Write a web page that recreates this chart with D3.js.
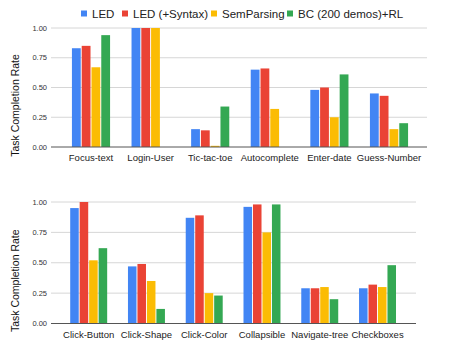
<!DOCTYPE html>
<html>
<head>
<meta charset="utf-8">
<script src="https://cdnjs.cloudflare.com/ajax/libs/d3/7.8.5/d3.min.js"></script>
<style>
  body { margin: 0; background: #fff; }
  text { font-family: "Liberation Sans", Arial, sans-serif; }
</style>
</head>
<body>
<script>
const width = 474;
const height = 350;

const seriesNames = ["LED", "LED (+Syntax)", "SemParsing", "BC (200 demos)+RL"];
const seriesColors = ["#4285F4", "#EA4335", "#FBBC04", "#34A853"];
const yTicks = [0, 0.25, 0.5, 0.75, 1];

// top panel
const tasksTop = ["Focus-text", "Login-User", "Tic-tac-toe", "Autocomplete", "Enter-date", "Guess-Number"];
const ledTop = [0.83, 1.00, 0.15, 0.65, 0.48, 0.45];
const ledSyntaxTop = [0.85, 1.00, 0.14, 0.66, 0.50, 0.43];
const semTop = [0.67, 1.00, 0.01, 0.32, 0.25, 0.15];
const bcTop = [0.94, 0, 0.34, 0, 0.61, 0.20];

// bottom panel
const tasksBottom = ["Click-Button", "Click-Shape", "Click-Color", "Collapsible", "Navigate-tree", "Checkboxes"];
const ledBottom = [0.95, 0.47, 0.87, 0.96, 0.29, 0.29];
const ledSyntaxBottom = [1.00, 0.49, 0.89, 0.98, 0.29, 0.32];
const semBottom = [0.52, 0.35, 0.25, 0.75, 0.30, 0.30];
const bcBottom = [0.62, 0.12, 0.23, 0.98, 0.20, 0.48];

const svg = d3.select('body').append('svg')
    .attr('width', width)
    .attr('height', height);

// legend
const legendX = [81, 122, 211, 287];
const legend = svg.append('g');
seriesNames.forEach((name, i) => {
    legend.append('rect')
        .attr('x', legendX[i]).attr('y', 10.5)
        .attr('width', 6).attr('height', 6)
        .attr('fill', seriesColors[i]);
    legend.append('text')
        .attr('x', legendX[i] + 11).attr('y', 18)
        .attr('font-size', 11.5)
        .attr('fill', '#222')
        .text(name);
});

function drawPanel(tasks, series, opt) {
    const g = svg.append('g');
    const y = d3.scaleLinear().domain([0, 1]).range([opt.y0, opt.y1]);
    const x0 = d3.scaleBand().domain(tasks).range(opt.bandRange).paddingInner(0).paddingOuter(0);
    const x1 = d3.scaleBand().domain(d3.range(series.length))
        .range([x0.bandwidth() * 0.18, x0.bandwidth() * 0.82]).paddingInner(0.1);

    // gridlines
    g.selectAll('line.grid')
        .data(yTicks.filter(t => t > 0))
        .enter().append('line')
        .attr('x1', opt.gridX[0]).attr('x2', opt.gridX[1])
        .attr('y1', d => y(d)).attr('y2', d => y(d))
        .attr('stroke', '#d6d6d6').attr('stroke-width', 1);

    // tick labels
    g.selectAll('text.tick')
        .data(yTicks)
        .enter().append('text')
        .attr('x', 47).attr('y', d => y(d) + 2.5)
        .attr('text-anchor', 'end')
        .attr('font-size', 7.5)
        .attr('fill', '#333')
        .text(d => d3.format('.2f')(d));

    // bars
    tasks.forEach((t, i) => {
        series.forEach((vals, s) => {
            if (vals[i] <= 0) return;
            g.append('rect')
                .attr('x', x0(t) + x1(s))
                .attr('width', x1.bandwidth())
                .attr('y', y(vals[i]))
                .attr('height', y(0) - y(vals[i]))
                .attr('fill', seriesColors[s]);
        });
    });

    // baseline
    g.append('line')
        .attr('x1', opt.gridX[0]).attr('x2', opt.gridX[1])
        .attr('y1', y(0)).attr('y2', y(0))
        .attr('stroke', '#555').attr('stroke-width', 1);

    // category labels
    g.selectAll('text.cat')
        .data(tasks)
        .enter().append('text')
        .attr('x', d => x0(d) + x0.bandwidth() / 2)
        .attr('y', y(0) + 14)
        .attr('text-anchor', 'middle')
        .attr('font-size', 9.5)
        .attr('fill', '#222')
        .text(d => d);

    // y title
    g.append('text')
        .attr('transform', `translate(19,${(opt.y0 + opt.y1) / 2 + 18}) rotate(-90)`)
        .attr('text-anchor', 'middle')
        .attr('font-size', 10.5)
        .attr('fill', '#111')
        .text('Task Completion Rate');
}

drawPanel(tasksTop, [ledTop, ledSyntaxTop, semTop, bcTop], {
    y0: 147, y1: 28, bandRange: [61.2, 418.8], gridX: [51, 427]
});
drawPanel(tasksBottom, [ledBottom, ledSyntaxBottom, semBottom, bcBottom], {
    y0: 323.5, y1: 202, bandRange: [59.8, 406.4], gridX: [51, 416]
});
</script>
</body>
</html>
